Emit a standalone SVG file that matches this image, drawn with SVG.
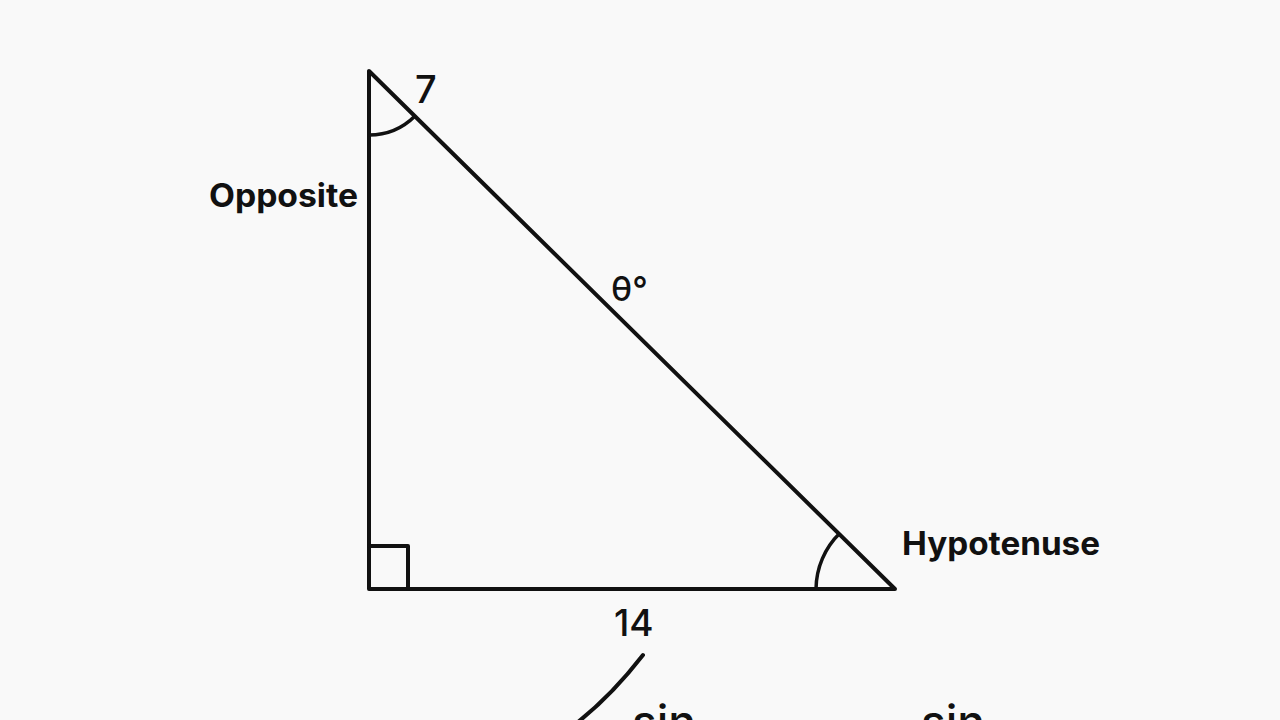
<svg xmlns="http://www.w3.org/2000/svg" width="1280" height="720" viewBox="0 0 1280 720">
<style>
.ln{fill:none;stroke:#111;stroke-width:4;stroke-linecap:round;stroke-linejoin:round}
.arc{fill:none;stroke:#111;stroke-width:3.5}
.lbl{font-family:Inter,"Noto Sans",sans-serif;font-weight:700;fill:#111}
.num{font-family:Inter,"Noto Sans",sans-serif;font-weight:500;fill:#111}
</style>
<rect width="1280" height="720" fill="#f9f9f9"/>
<g id="triangle">
<path class="ln" d="M369,71 L369,589 L895,589 Z"/>
<path class="arc" d="M369,135 A65,65 0 0 0 415,116"/>
<path class="arc" d="M816,589 A79,79 0 0 1 840,533"/>
<path class="ln" d="M369,546 L408,546 L408,589"/>
</g>
<g id="labels">
<text class="num" x="415" y="103" font-size="38">7</text>
<text class="lbl" x="209" y="207" font-size="32" textLength="149" lengthAdjust="spacingAndGlyphs">Opposite</text>
<text class="num" x="611" y="301" font-size="34" font-weight="600">θ°</text>
<text class="lbl" x="902" y="555" font-size="32" textLength="198" lengthAdjust="spacingAndGlyphs">Hypotenuse</text>
<text class="num" x="614" y="636" font-size="37">14</text>
<text class="num" x="632" y="738" font-size="46">sin</text>
<text class="num" x="921" y="738" font-size="46">sin</text>
</g>
<g id="connectors">
<path class="ln" d="M643,655 Q612,695 578,722"/>
</g>
</svg>
